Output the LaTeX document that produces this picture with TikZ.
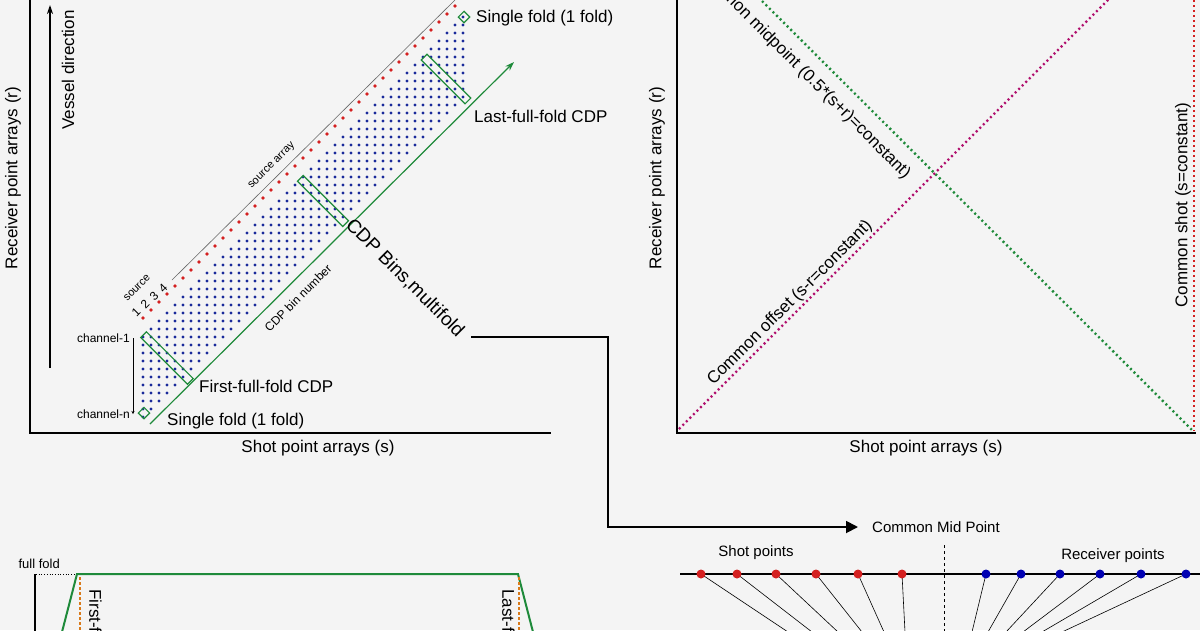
\documentclass[tikz,border=0pt]{standalone}
\usepackage{fontspec}
\setmainfont{Liberation Sans}
\usetikzlibrary{arrows.meta}
\definecolor{bg}{HTML}{F4F4F4}
\definecolor{gr}{HTML}{1E8A3A}
\definecolor{rd}{HTML}{D42020}
\definecolor{bl}{HTML}{1A2A9A}
\definecolor{mg}{HTML}{B0106E}
\definecolor{og}{HTML}{D87A1A}
\tikzset{
 axis/.style={line width=2.6pt,black},
 lab/.style={font=\fontsize{17}{17}\selectfont,inner sep=0},
 sml/.style={font=\fontsize{12}{12}\selectfont,inner sep=0},
 gbox/.style={draw=gr,line width=1.2pt,inner sep=0},
 dotl/.style={line width=2.4pt,dash pattern=on 2pt off 3pt},
}
\begin{document}
\begin{tikzpicture}[x=1pt,y=-1pt]
\useasboundingbox (0,0) rectangle (1200,630);
\fill[bg] (0,0) rectangle (1200,630);
% ---------- left panel
\coordinate (la0) at (30,0); \coordinate (lo) at (30,433); \coordinate (lx) at (551,433);
\draw[axis] (la0) -- (lo) -- (lx);
\node[lab,rotate=90] (ry) at (13,178) {Receiver point arrays (r)};
\node[lab] (sx) at (318,448) {Shot point arrays (s)};
\coordinate (v0) at (50,368); \coordinate (v1) at (50,5);
\draw[line width=1.2pt,-{Stealth[length=9pt,width=6pt]}] (v0) -- (v1);
\node[lab,rotate=90] (vd) at (68,70) {Vessel direction};
% source array line
\coordinate (sa0) at (172,280); \coordinate (sa1) at (455,0);
\draw[gray!80!black,line width=0.6pt] (sa0) -- (sa1);
\node[sml,rotate=45,font=\fontsize{11}{11}\selectfont] (sal) at (272,166) {source array};
% dots
\foreach \i in {0,...,40}{
  \fill[rd] (143+8*\i,318-8*\i) circle (1.8);
  \foreach \j in {0,...,10}{
    \fill[bl] (143+8*\i,337-8*\i+8*\j) circle (1.7);
  }
}
\node[sml,rotate=45,font=\fontsize{11}{11}\selectfont] (src) at (137,288) {source};
\node[sml,rotate=45] (s1) at (136,312) {1};
\node[sml,rotate=45] (s2) at (145,304) {2};
\node[sml,rotate=45] (s3) at (154,296) {3};
\node[sml,rotate=45] (s4) at (163,288) {4};
% green arrow
\coordinate (g0) at (150,424); \coordinate (g1) at (514,62);
\draw[gr,line width=1.2pt,-{Stealth[length=9pt,width=6pt]}] (g0) -- (g1);
\node[sml,rotate=45] (cbn) at (298,298) {CDP bin number};
% boxes
\node[gbox,rotate=-45,minimum width=66,minimum height=8] (b1) at (167,358) {};
\node[gbox,rotate=-45,minimum width=64,minimum height=8] (b2) at (323,201) {};
\node[gbox,rotate=-45,minimum width=62,minimum height=8] (b3) at (446,79) {};
\node[gbox,rotate=45,minimum width=8,minimum height=8] (d1) at (144,413) {};
\node[gbox,rotate=45,minimum width=8,minimum height=8] (d2) at (464,17) {};
\node[sml,anchor=east] (c1) at (130,338) {channel-1};
\node[sml,anchor=east] (cn) at (130,414) {channel-n};
\coordinate (ch0) at (133,338); \coordinate (ch1) at (133,414);
\draw[line width=0.5pt,-{Stealth[length=3pt,width=3pt]}] (ch0) -- (ch1);
\node[lab,anchor=west] (ff) at (199,386) {First-full-fold CDP};
\node[lab,anchor=west] (sf1) at (167,421) {Single fold (1 fold)};
\node[lab,anchor=west] (sf2) at (476,18) {Single fold (1 fold)};
\node[lab,anchor=west] (lf) at (474,116) {Last-full-fold CDP};
\node[lab,rotate=-45,font=\fontsize{19}{19}\selectfont] (cbm) at (405,278) {CDP Bins,multifold};
% connector
\coordinate (k0) at (471,337); \coordinate (k1) at (608,337); \coordinate (k2) at (608,527); \coordinate (k3) at (858,527);
\draw[line width=1.8pt,-{Triangle[length=12pt,width=12pt]}] (k0) -- (k1) -- (k2) -- (k3);
\node[sml,anchor=west,font=\fontsize{15}{15}\selectfont] (cmp) at (872,527) {Common Mid Point};
% ---------- right panel
\coordinate (ra0) at (677,0); \coordinate (ro) at (677,433); \coordinate (rx) at (1196,433);
\draw[axis] (ra0) -- (ro) -- (rx);
\node[lab,rotate=90] (ry2) at (657,178) {Receiver point arrays (r)};
\node[lab] (sx2) at (926,448) {Shot point arrays (s)};
\coordinate (gm0) at (755,-6); \coordinate (gm1) at (1193,431);
\draw[gr,dotl] (gm0) -- (gm1);
\coordinate (mg0) at (679,429); \coordinate (mg1) at (1112,-4);
\draw[mg,dotl] (mg0) -- (mg1);
\coordinate (rs0) at (1194,0); \coordinate (rs1) at (1194,431);
\draw[rd,dotl] (rs0) -- (rs1);
\node[lab,rotate=45] (cof) at (790,303) {Common offset (s-r=constant)};
\node[lab,rotate=-45,anchor=south east] (cmd) at (902,182) {Common midpoint (0.5*(s+r)=constant)};
\node[lab,rotate=90] (csh) at (1183,205) {Common shot (s=constant)};
% ---------- bottom left
\node[sml,anchor=east,font=\fontsize{13}{13}\selectfont] (fulf) at (60,564) {full fold};
\coordinate (fd0) at (36,574); \coordinate (fd1) at (77,574);
\draw[line width=0.7pt,dotted] (fd0) -- (fd1);
\coordinate (fv0) at (35,574); \coordinate (fv1) at (35,632);
\draw[line width=1.5pt] (fv0) -- (fv1);
\coordinate (p0) at (62,632); \coordinate (p1) at (77,574); \coordinate (p2) at (518,574); \coordinate (p3) at (533,632);
\draw[gr,line width=2pt] (p0) -- (p1) -- (p2) -- (p3);
\coordinate (o0) at (80,577); \coordinate (o1) at (80,632);
\coordinate (o2) at (519,577); \coordinate (o3) at (519,632);
\draw[og,line width=1.5pt,dash pattern=on 3pt off 2pt] (o0) -- (o1) (o2) -- (o3);
\node[lab,rotate=-90,anchor=north west] (fst) at (102,589) {First-full-fold CDP};
\node[lab,rotate=-90,anchor=north west] (lst) at (515,589) {Last-full-fold CDP};
% ---------- bottom right
\node[sml,font=\fontsize{15}{15}\selectfont] (shp) at (756,553) {Shot points};
\node[sml,font=\fontsize{15}{15}\selectfont] (rcp) at (1113,556) {Receiver points};
\coordinate (h0) at (680,574); \coordinate (h1) at (1200,574);
\draw[line width=2pt] (h0) -- (h1);
\coordinate (dv0) at (944,545); \coordinate (dv1) at (944,632);
\draw[line width=1pt,dash pattern=on 3pt off 3pt] (dv0) -- (dv1);
\foreach \a/\b [count=\n] in {701/788,737/812,776/838,816/862,858/884,902/905}{
  \coordinate (sp\n) at (\a,574); \coordinate (st\n) at (\b,632);
  \draw[line width=0.6pt] (sp\n) -- (st\n);
  \fill[rd] (sp\n) circle (4.5);
}
\foreach \a/\b [count=\n] in {986/972,1021/988,1060/1006,1100/1023,1141/1042,1186/1062}{
  \coordinate (rp\n) at (\a,574); \coordinate (rt\n) at (\b,632);
  \draw[line width=0.6pt] (rp\n) -- (rt\n);
  \fill[blue!70!black] (rp\n) circle (4.5);
}
\end{tikzpicture}
\end{document}
